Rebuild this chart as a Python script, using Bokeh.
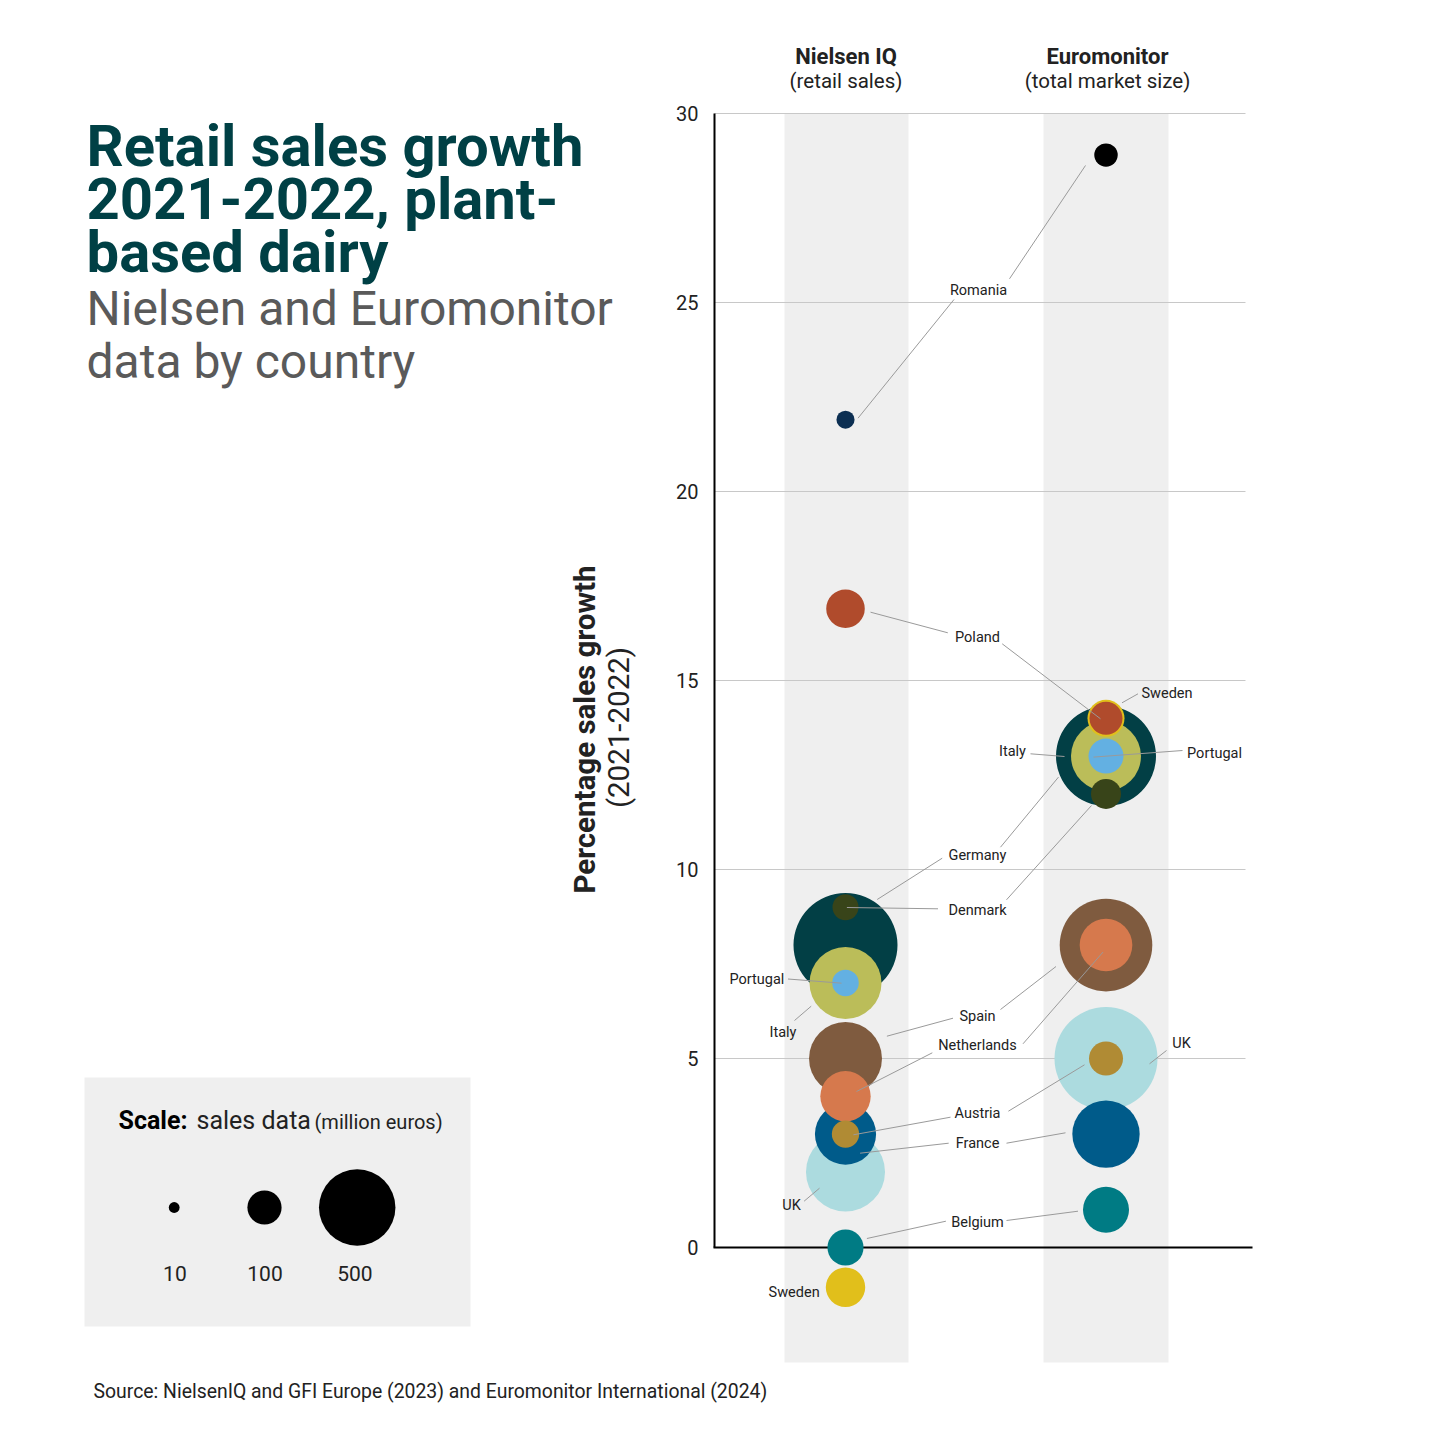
import math
from bokeh.plotting import figure
from bokeh.models import Range1d, LinearAxis, FixedTicker, Label, ColumnDataSource
from bokeh.core.properties import value
from bokeh.embed import file_html
from bokeh.resources import INLINE

# ---------------- data ----------------
countries = ["Germany", "UK", "Spain", "Italy", "France", "Netherlands", "Poland",
             "Sweden", "Belgium", "Austria", "Portugal", "Denmark", "Romania"]
nielsen_growth = [8.0, 2.0, 5.0, 7.0, 3.0, 4.0, 16.9, -1.05, 0.0, 3.0, 7.0, 9.0, 21.9]
nielsen_sales = [925, 534, 455, 443, 320, 217, 127, 133, 111, 64, 60, 58, 28]
euromonitor_growth = [13.0, 5.0, 8.0, 13.0, 3.0, 8.0, 14.0, 14.0, 1.0, 5.0, 13.0, 12.0, 28.9]
euromonitor_sales = [855, 907, 733, 419, 388, 237, 93, 117, 181, 99, 105, 77, 47]
source_names = ["Nielsen IQ", "Euromonitor"]
source_notes = ["(retail sales)", "(total market size)"]
y_ticks = [0, 5, 10, 15, 20, 25, 30]
scale_values = [10, 100, 500]

# ---------------- styles ----------------
base_colors = {
    "Germany": "#023f45", "UK": "#acdbdf", "Spain": "#7f5b3f", "Italy": "#bbbd59",
    "France": "#005b8a", "Netherlands": "#d6794d", "Poland": "#b04b2c",
    "Sweden": "#e1bf1b", "Belgium": "#007b84", "Austria": "#b08b34",
    "Portugal": "#63b0e2", "Denmark": "#384419", "Romania": "#0c2f52",
}
euro_colors = dict(base_colors, Romania="#000000")
FONT = "Roboto"
TXT = "#222222"

# ---------------- geometry (page pixels of the reference) ----------------
W = H = 1424
OFF = 0
PPU = 37.8          # pixels per percentage point
Y0 = 1247           # pixel row of growth = 0
AXIS_X = 714
COLX = [845.0, 1105.5]
BANDS = [(784, 908), (1043, 1168)]
K = 1.71            # bubble radius = K * sqrt(sales)


def ry(py):
    return (Y0 - py) / PPU


def diam(v):
    return 2 * K * math.sqrt(v)


p = figure(width=W, height=H, x_range=Range1d(OFF, OFF + W),
           y_range=Range1d(ry(OFF + H), ry(OFF)),
           x_axis_type=None, y_axis_type=None, toolbar_location=None,
           output_backend="svg", min_border=0, outline_line_color=None,
           background_fill_color="white", border_fill_color="white")

# grey column bands
p.quad(left=[b[0] for b in BANDS], right=[b[1] for b in BANDS],
       bottom=[ry(1362)] * 2, top=[y_ticks[-1]] * 2,
       fill_color="#efefef", line_color=None)

# gridlines
grid_vals = y_ticks[1:]
p.segment(x0=[AXIS_X] * len(grid_vals), y0=grid_vals,
          x1=[1245] * len(grid_vals), y1=grid_vals,
          line_color="#c8c8c8", line_width=1)

# y axis
yaxis = LinearAxis(fixed_location=AXIS_X, bounds=(y_ticks[0], y_ticks[-1]),
                   ticker=FixedTicker(ticks=y_ticks, minor_ticks=[]),
                   axis_line_width=2, axis_line_color="black",
                   major_tick_line_color=None, minor_tick_line_color=None,
                   major_label_text_font=FONT, major_label_text_font_size="20px",
                   major_label_text_color=TXT, major_label_standoff=10)
p.add_layout(yaxis, "left")

# x axis baseline
p.segment(x0=[AXIS_X - 1], y0=[y_ticks[0]], x1=[1252], y1=[y_ticks[0]],
          line_color="black", line_width=2)

# bubbles
series = [(nielsen_growth, nielsen_sales, base_colors),
          (euromonitor_growth, euromonitor_sales, euro_colors)]
for si, (growth, sales, cmap) in enumerate(series):
    order = sorted(range(len(countries)), key=lambda i: -sales[i])
    src = ColumnDataSource(dict(
        x=[COLX[si]] * len(order),
        y=[growth[i] for i in order],
        size=[diam(sales[i]) for i in order],
        color=[cmap[countries[i]] for i in order],
    ))
    p.scatter(x="x", y="y", size="size", fill_color="color", line_color=None,
              source=src)

# leader lines: (country, series index, label end px, offset px from bubble centre)
leaders = [
    ("Romania", 0, (953.5, 299.0), (12.5, -1.5)),
    ("Romania", 1, (1009.0, 278.3), (-20.5, 10.4)),
    ("Poland", 0, (947.3, 632.3), (25.0, 3.5)),
    ("Poland", 1, (1001.7, 643.3), (-5.5, 0.5)),
    ("Sweden", 1, (1137.5, 693.3), (16.0, -15.5)),
    ("Italy", 1, (1030.0, 753.3), (-41.5, 0.4)),
    ("Portugal", 1, (1182.0, 750.0), (-12.5, 1.0)),
    ("Germany", 0, (941.7, 857.7), (31.7, -45.6)),
    ("Germany", 1, (1000.0, 846.7), (-47.5, 21.0)),
    ("Denmark", 0, (937.5, 908.3), (1.4, 0.2)),
    ("Denmark", 1, (1006.0, 899.3), (-14.5, 11.6)),
    ("Portugal", 0, (787.5, 978.5), (-4.0, 0.3)),
    ("Italy", 0, (794.0, 1020.0), (-34.3, 23.3)),
    ("Spain", 0, (952.5, 1017.7), (41.4, -22.3)),
    ("Spain", 1, (1000.0, 1009.0), (-50.0, 21.4)),
    ("Netherlands", 0, (931.8, 1052.3), (11.0, -4.8)),
    ("Netherlands", 1, (1022.5, 1043.3), (-3.0, 7.0)),
    ("UK", 1, (1166.0, 1050.0), (43.5, 5.3)),
    ("UK", 0, (803.6, 1200.7), (-26.0, 16.3)),
    ("Austria", 0, (950.0, 1116.7), (7.9, 0.7)),
    ("Austria", 1, (1007.9, 1110.7), (-21.5, 6.3)),
    ("France", 0, (948.2, 1142.7), (14.6, 19.1)),
    ("France", 1, (1006.0, 1142.7), (-40.5, -1.3)),
    ("Belgium", 0, (945.4, 1220.7), (21.4, -9.0)),
    ("Belgium", 1, (1006.0, 1220.0), (-28.0, 1.5)),
]
lx0, ly0, lx1, ly1 = [], [], [], []
for name, si, (ex, ey), (dx, dy) in leaders:
    i = countries.index(name)
    g = series[si][0][i]
    lx0.append(ex)
    ly0.append(ry(ey))
    lx1.append(COLX[si] + dx)
    ly1.append(g - dy / PPU)
p.segment(x0=lx0, y0=ly0, x1=lx1, y1=ly1, line_color="#9a9a9a", line_width=1)

# country labels (text centre in px)
country_labels = [
    ("Romania", 978, 290), ("Poland", 977, 637), ("Sweden", 1166.5, 693),
    ("Italy", 1012, 751), ("Portugal", 1214, 753), ("Germany", 977, 855),
    ("Denmark", 977, 910), ("Portugal", 756.4, 979), ("Italy", 782.5, 1032),
    ("Spain", 977, 1016), ("Netherlands", 977, 1045), ("UK", 1181, 1043),
    ("Austria", 977, 1113), ("France", 977, 1143), ("UK", 791, 1205),
    ("Belgium", 977, 1222), ("Sweden", 793.6, 1292),
]
p.text(x=[c[1] for c in country_labels], y=[ry(c[2]) for c in country_labels],
       text=[c[0] for c in country_labels], text_align="center",
       text_baseline="middle", text_font=value(FONT), text_font_size="14.5px",
       text_color=TXT)


def label(x, base_px, text, size, style="normal", color=TXT, align="left",
          angle=0.0, middle_px=None):
    # place by the alphabetic baseline (converted to the em-box middle)
    y_px = middle_px if middle_px is not None else base_px - 0.3 * size
    p.add_layout(Label(x=x, y=ry(y_px), text=text, text_font=FONT,
                       text_font_size=f"{size}px", text_font_style=style,
                       text_color=color, text_align=align,
                       text_baseline="middle", angle=angle))


# column headers
for cx, name, note in zip([845.5, 1107.0], source_names, source_notes):
    label(cx, 63, name, 22, "bold", align="center")
    label(cx, 87, note, 20.5, align="center")

# axis title
label(584, None, "Percentage sales growth", 29.5, "bold", align="center",
      angle=math.pi / 2, middle_px=729)
label(618, None, "(2021-2022)", 29.5, align="center", angle=math.pi / 2,
      middle_px=727)

# title and subtitle
title_col = "#004045"
label(86, 163, "Retail sales growth", 58, "bold", color=title_col)
label(86, 216, "2021-2022, plant-", 58, "bold", color=title_col)
label(86, 269, "based dairy", 58, "bold", color=title_col)
label(86, 322, "Nielsen and Euromonitor", 48, color="#5a5a5a")
label(86, 375, "data by country", 48, color="#5a5a5a")

# scale legend
p.quad(left=[84], right=[470], bottom=[ry(1326)], top=[ry(1077)],
       fill_color="#efefef", line_color=None)
label(118, 1127, "Scale:", 25, "bold", color="black")
label(196, 1127, "sales data", 25)
label(314, 1127, "(million euros)", 20)
leg_x = [173.7, 264.0, 356.7]
p.scatter(x=leg_x, y=[ry(1207)] * len(scale_values),
          size=[diam(v) for v in scale_values], fill_color="black", line_color=None)
for lx, v in zip([174.4, 264.5, 354.4], scale_values):
    label(lx, 1279, str(v), 21, align="center")

# source
label(93, 1397, "Source: NielsenIQ and GFI Europe (2023) and Euromonitor International (2024)",
      19.4)

open("out.html", "w").write(file_html(p, INLINE))
